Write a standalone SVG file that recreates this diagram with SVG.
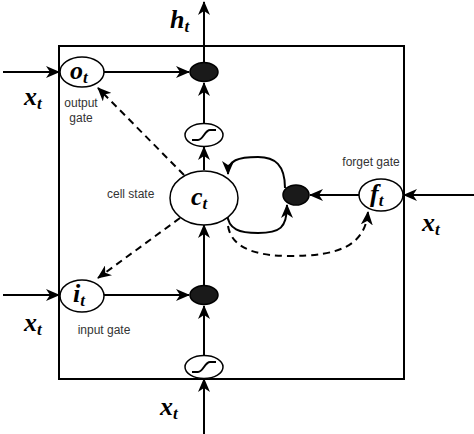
<svg xmlns="http://www.w3.org/2000/svg" width="474" height="434" viewBox="0 0 474 434">
<style>
.ln{stroke:#000;stroke-width:2;fill:none}
.dash{stroke:#000;stroke-width:2;fill:none;stroke-dasharray:7,5}
.nd{fill:#fff;stroke:#000;stroke-width:1.5}
.dk{fill:#1a1a1a;stroke:#000;stroke-width:1.5}
.m{font-family:"Liberation Serif","Times New Roman",serif;font-style:italic;font-weight:bold;font-size:26px}
.s{font-size:17px}
.lb{font-family:"Liberation Sans",Arial,sans-serif;font-size:12px;fill:#333}
</style>
<defs>
<marker id="ah" markerWidth="14" markerHeight="12" refX="13" refY="6" orient="auto" markerUnits="userSpaceOnUse">
<path d="M0,0 L14,6 L0,12 L4,6 z" fill="#000"/>
</marker>
</defs>
<rect x="59" y="46" width="345" height="333" class="ln" stroke-width="1.5"/>
<g id="connectors">
<line x1="204" y1="62" x2="204" y2="2" class="ln" marker-end="url(#ah)"/>
<line x1="204" y1="124" x2="204" y2="83" class="ln" marker-end="url(#ah)"/>
<line x1="204" y1="170" x2="204" y2="147" class="ln" marker-end="url(#ah)"/>
<line x1="204" y1="285" x2="204" y2="225" class="ln" marker-end="url(#ah)"/>
<line x1="204" y1="355" x2="204" y2="306" class="ln" marker-end="url(#ah)"/>
<line x1="204" y1="434" x2="204" y2="379" class="ln" marker-end="url(#ah)"/>
<line x1="3" y1="72" x2="59" y2="72" class="ln" marker-end="url(#ah)"/>
<line x1="104" y1="72" x2="189" y2="72" class="ln" marker-end="url(#ah)"/>
<line x1="3" y1="295" x2="59" y2="295" class="ln" marker-end="url(#ah)"/>
<line x1="104" y1="295" x2="189" y2="295" class="ln" marker-end="url(#ah)"/>
<line x1="474" y1="195" x2="404" y2="195" class="ln" marker-end="url(#ah)"/>
<line x1="359" y1="195" x2="310" y2="195" class="ln" marker-end="url(#ah)"/>
<path d="M285,188 C285,165 275,157 258,157 C238,157 228,160 228,174" class="ln" marker-end="url(#ah)"/>
<path d="M227,213 C228,230 240,233 258,233 C280,233 287,228 287,205" class="ln" marker-end="url(#ah)"/>
<path d="M228,226 C232,250 260,256 290,256 C340,256 365,245 368,212" class="dash" marker-end="url(#ah)"/>
<line x1="184" y1="175" x2="98" y2="88" class="dash" marker-end="url(#ah)"/>
<line x1="180" y1="218" x2="98" y2="278" class="dash" marker-end="url(#ah)"/>
</g>
<g id="o_t"><ellipse cx="82" cy="72" rx="22" ry="15" class="nd"/><text x="70" y="79" class="m">o<tspan class="s" dy="4">t</tspan></text></g>
<g id="i_t"><ellipse cx="82" cy="296" rx="22" ry="16" class="nd"/><text x="73" y="302" class="m">i<tspan class="s" dy="4">t</tspan></text></g>
<g id="f_t"><ellipse cx="381" cy="195" rx="22" ry="16" class="nd"/><text x="370" y="202" class="m">f<tspan class="s" dy="4">t</tspan></text></g>
<g id="c_t"><ellipse cx="204" cy="198" rx="34" ry="27" class="nd"/><text x="191" y="205" class="m" font-size="28">c<tspan class="s" dy="4">t</tspan></text></g>
<g id="mul_top"><ellipse cx="204" cy="72" rx="14" ry="9.5" class="dk"/></g>
<g id="mul_mid"><ellipse cx="296" cy="195" rx="13" ry="10" class="dk"/></g>
<g id="mul_bot"><ellipse cx="204" cy="295" rx="14" ry="9.5" class="dk"/></g>
<g id="sig_top"><ellipse cx="204" cy="135" rx="19" ry="11.5" class="nd"/><path d="M192,140 L198,140 C203,140 205,130 210,130 L216,130" class="ln"/></g>
<g id="sig_bot"><ellipse cx="204" cy="367" rx="19" ry="11.5" class="nd"/><path d="M192,372 L198,372 C203,372 205,362 210,362 L216,362" class="ln"/></g>
<g id="labels">
<text x="170" y="28" class="m">h<tspan class="s" dy="4">t</tspan></text>
<text x="24" y="105" class="m">x<tspan class="s" dy="4">t</tspan></text>
<text x="24" y="331" class="m">x<tspan class="s" dy="4">t</tspan></text>
<text x="160" y="415" class="m">x<tspan class="s" dy="4">t</tspan></text>
<text x="422" y="231" class="m">x<tspan class="s" dy="4">t</tspan></text>
<text x="81" y="107" class="lb" text-anchor="middle">output</text>
<text x="81" y="122" class="lb" text-anchor="middle">gate</text>
<text x="104" y="334" class="lb" text-anchor="middle">input gate</text>
<text x="107" y="198" class="lb">cell state</text>
<text x="371" y="166" class="lb" text-anchor="middle">forget gate</text>
</g>
</svg>
